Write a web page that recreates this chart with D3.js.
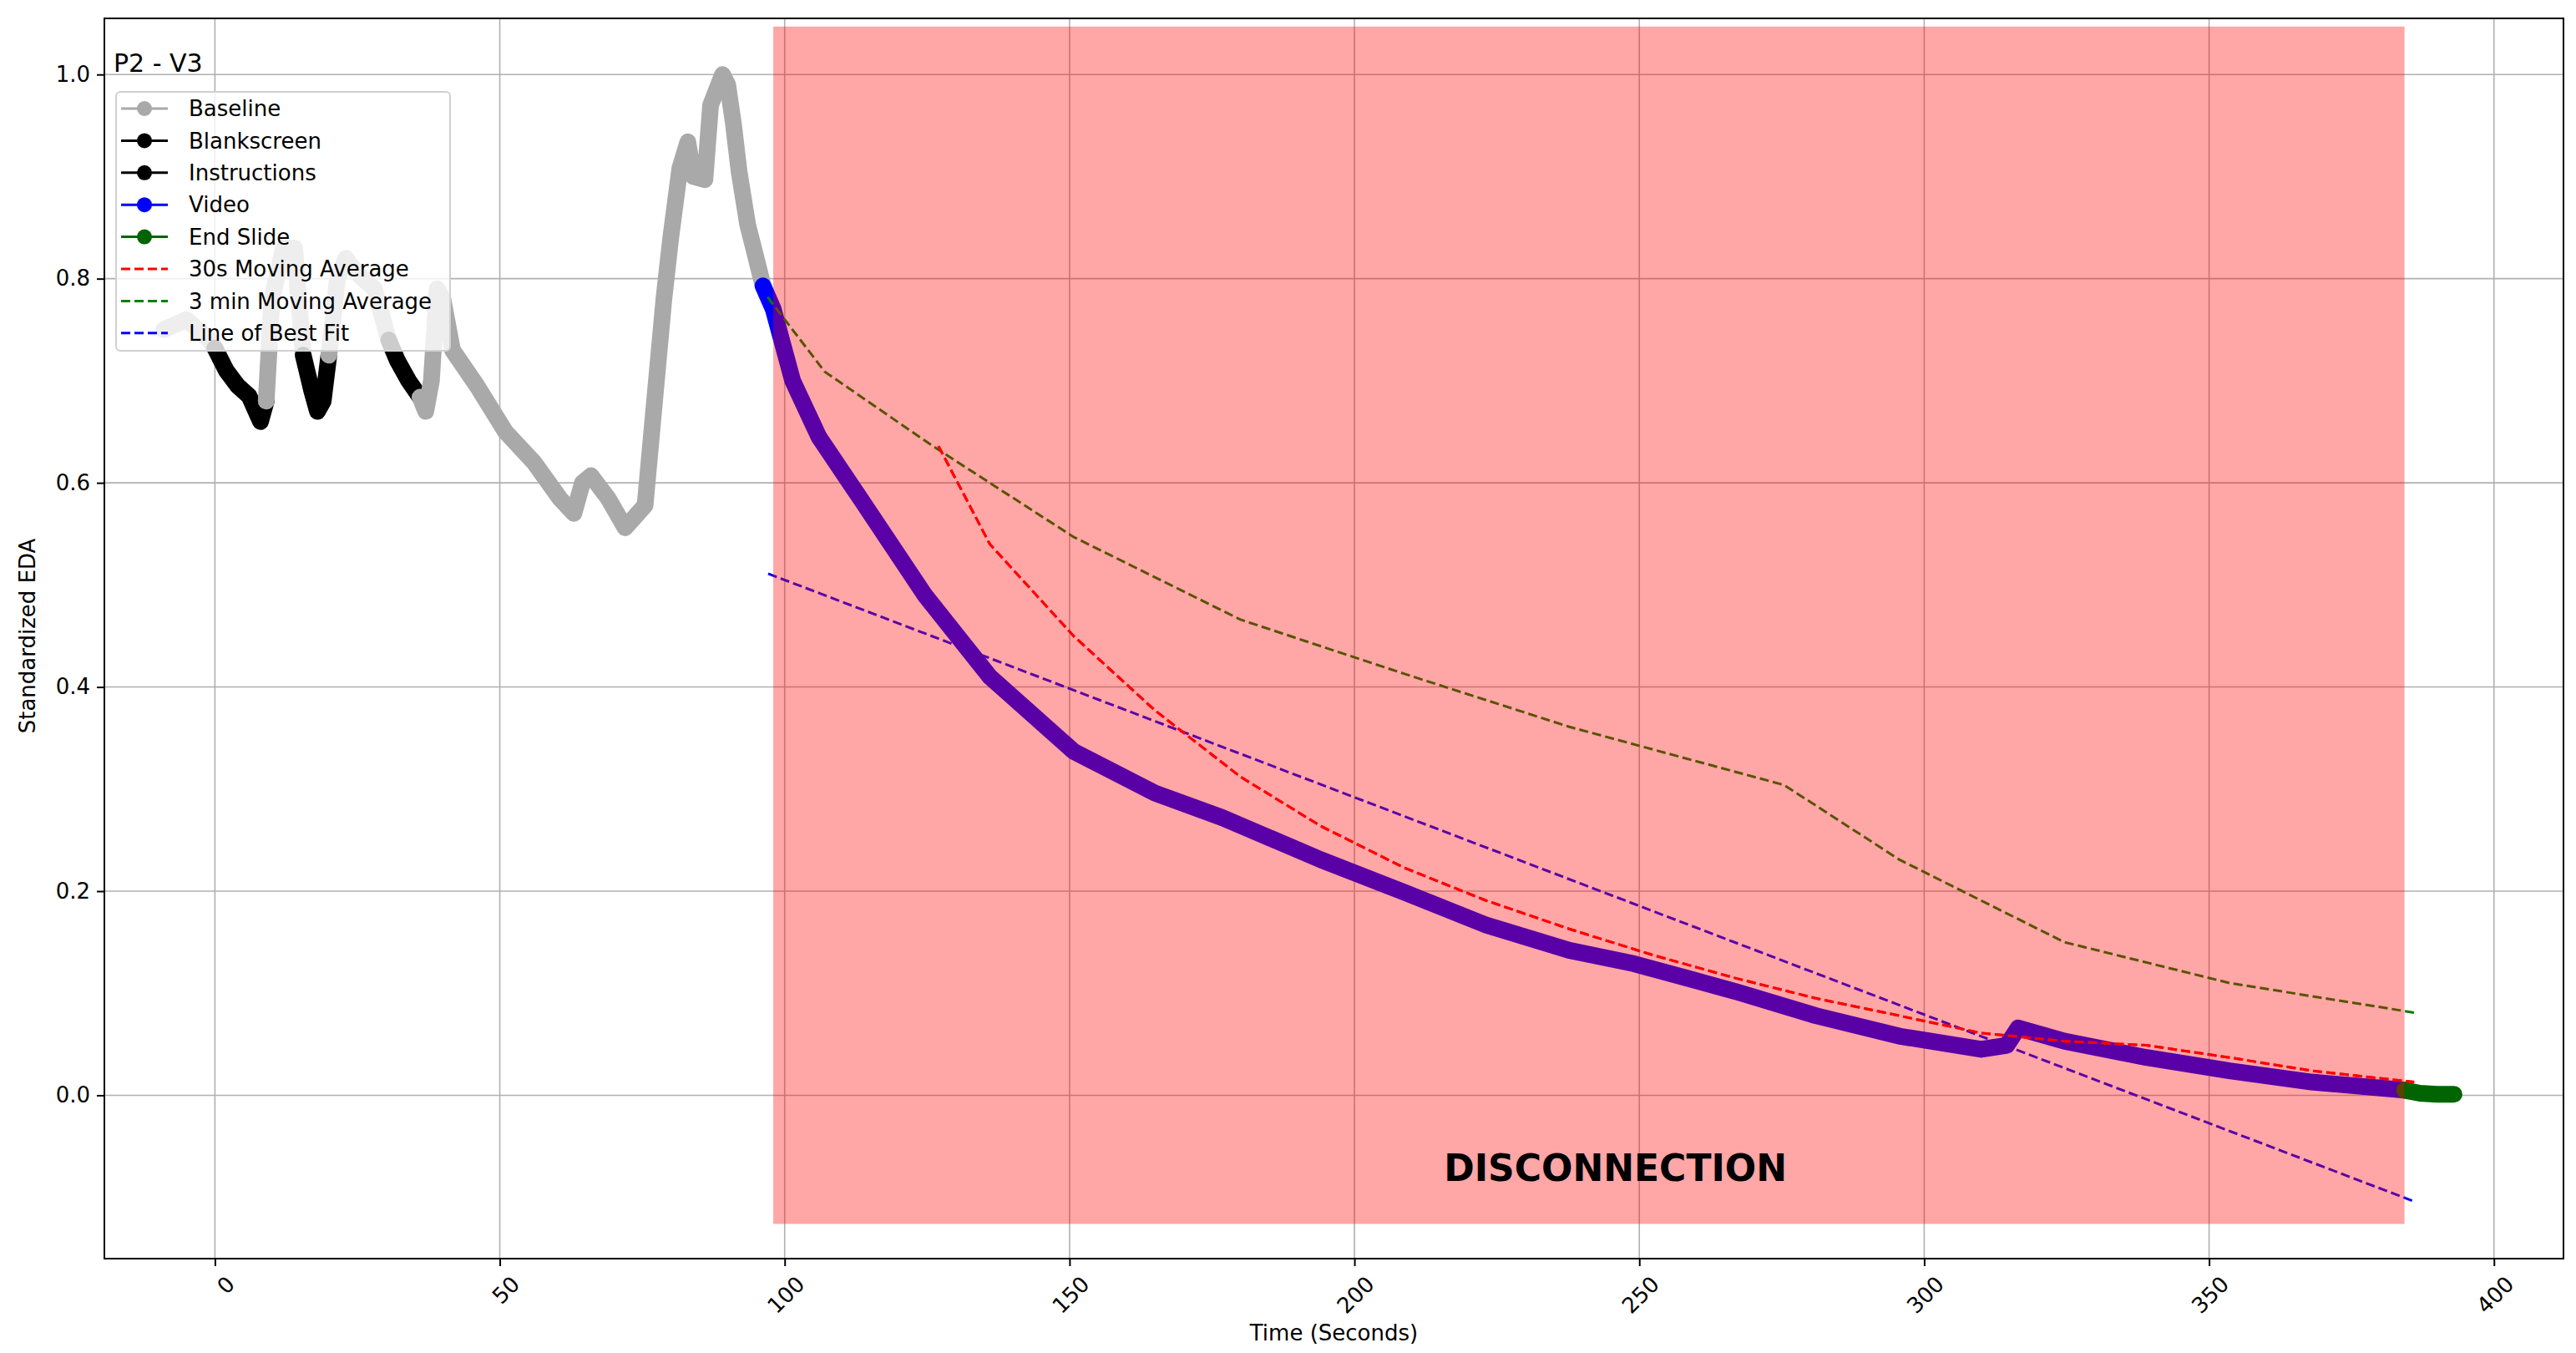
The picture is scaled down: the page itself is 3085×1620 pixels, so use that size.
<!DOCTYPE html>
<html>
<head>
<meta charset="utf-8">
<script src="https://cdn.jsdelivr.net/npm/d3@7"></script>
<style>
  body { margin: 0; background: #fff; }
  text { font-family: "DejaVu Sans", sans-serif; }
</style>
</head>
<body>
<svg id="chart"></svg>
<script>
// phases: [time, standardized EDA]
const baselineA = [[-9,0.75],[-5,0.76],[-1,0.74],[0,0.732]];
const blank1 = [[0,0.732],[2,0.71],[4,0.695],[6,0.685],[8,0.66],[9,0.68]];
const baselineB = [[9,0.68],[10,0.78],[12,0.83],[14,0.83],[15.5,0.725]];
const blank2 = [[15.5,0.725],[17,0.69],[18,0.67],[19,0.68],[20,0.725]];
const baselineC = [[20,0.725],[21.5,0.8],[23,0.82],[25,0.805],[28,0.79],[30.5,0.74]];
const instructions = [[30.5,0.74],[32,0.72],[34,0.70],[36,0.684]];
const baselineD = [[36,0.684],[37,0.67],[38,0.7],[39,0.79],[40,0.78],[41.7,0.73],[46,0.695],
  [51,0.65],[56,0.62],[60.5,0.585],[63,0.57],[64.5,0.6],[66,0.607],[69,0.585],[72,0.556],
  [75.5,0.578],[77,0.67],[78.8,0.78],[80,0.84],[81.6,0.908],[83,0.934],[84,0.90],[86,0.897],
  [87,0.97],[89.1,1.0],[90,0.99],[91,0.952],[92,0.905],[93.5,0.853],[95,0.82],[96.2,0.793]];
const video = [[96.2,0.793],[98,0.77],[101.4,0.70],[106,0.645],[113,0.587],[124.6,0.49],[136,0.41],
  [150.7,0.337],[165,0.296],[176.8,0.272],[194,0.231],[208.7,0.199],[223,0.167],[237.7,0.142],
  [249,0.129],[266.7,0.102],[281,0.078],[295.6,0.058],[310,0.045],[314.5,0.049],[316.5,0.066],
  [324.6,0.053],[339,0.037],[353.6,0.024],[368,0.013],[384.3,0.005]];
const endSlide = [[384.3,0.005],[387,0.002],[390,0.001],[393,0.001]];
const ma30 = [[127,0.636],[136,0.54],[150.7,0.45],[165,0.377],[180,0.312],[194,0.264],[208.7,0.223],
  [223,0.191],[237.7,0.163],[252,0.138],[266.7,0.115],[281,0.095],[295.6,0.078],[310,0.061],
  [324.6,0.053],[339,0.049],[353.6,0.037],[368,0.024],[386,0.013]];
const ma3min = [[97,0.782],[107,0.709],[126,0.636],[150.7,0.547],[180,0.466],[208.7,0.413],
  [237.7,0.361],[275.4,0.304],[295.6,0.231],[324.6,0.150],[353.6,0.11],[386,0.081]];
const bestFit = [[97.1,0.511],[386,-0.104]];
const xTicks = [0,50,100,150,200,250,300,350,400];
const yTicks = [0.0,0.2,0.4,0.6,0.8,1.0];
const span = { x0: 98, x1: 384.3, y0: -0.126, y1: 1.047, label: "DISCONNECTION" };

const width = 3085, height = 1620;
const margin = { top: 22, right: 15, bottom: 113, left: 125 };

const svg = d3.select("#chart").attr("width", width).attr("height", height);

const x = d3.scaleLinear().domain([-19.4, 412.2]).range([margin.left, width - margin.right]);
const y = d3.scaleLinear().domain([-0.16, 1.055]).range([height - margin.bottom, margin.top]);

// grid
svg.append("g").selectAll("line").data(xTicks).join("line")
  .attr("x1", d => x(d)).attr("x2", d => x(d))
  .attr("y1", margin.top).attr("y2", height - margin.bottom)
  .attr("stroke", "#b0b0b0").attr("stroke-width", 1.6);
svg.append("g").selectAll("line").data(yTicks).join("line")
  .attr("y1", d => y(d)).attr("y2", d => y(d))
  .attr("x1", margin.left).attr("x2", width - margin.right)
  .attr("stroke", "#b0b0b0").attr("stroke-width", 1.6);

const line = d3.line().x(d => x(d[0])).y(d => y(d[1]));

const thick = [
  [baselineA, "#a9a9a9"], [blank1, "#000"], [baselineB, "#a9a9a9"], [blank2, "#000"],
  [baselineC, "#a9a9a9"], [instructions, "#000"], [baselineD, "#a9a9a9"],
  [video, "#0000ff"], [endSlide, "#006400"]
];
thick.forEach(([d, c]) => {
  svg.append("path").datum(d).attr("d", line)
    .attr("fill", "none").attr("stroke", c).attr("stroke-width", 20)
    .attr("stroke-linejoin", "round").attr("stroke-linecap", "round");
});

const dashed = [[ma30, "#ff0000"], [ma3min, "#008000"], [bestFit, "#0000ff"]];
dashed.forEach(([d, c]) => {
  svg.append("path").datum(d).attr("d", line)
    .attr("fill", "none").attr("stroke", c).attr("stroke-width", 3)
    .attr("stroke-dasharray", "11,5");
});

// shaded span on top
svg.append("rect")
  .attr("x", x(span.x0)).attr("width", x(span.x1) - x(span.x0))
  .attr("y", y(span.y1)).attr("height", y(span.y0) - y(span.y1))
  .attr("fill", "red").attr("fill-opacity", 0.35);

// red dashed line stays bright on top
svg.append("path").datum(ma30).attr("d", line)
  .attr("fill", "none").attr("stroke", "#ff0000").attr("stroke-width", 3)
  .attr("stroke-dasharray", "11,5");

svg.append("text")
  .attr("x", x(245.8)).attr("y", y(-0.071)).attr("dy", "0.35em")
  .attr("text-anchor", "middle").style("font-size", "44px").style("font-weight", "bold")
  .text(span.label);

// axes
const xAxis = svg.append("g")
  .attr("transform", `translate(0,${height - margin.bottom})`)
  .call(d3.axisBottom(x).tickValues(xTicks).tickSize(9).tickPadding(8));
xAxis.selectAll("text")
  .style("font-size", "26px").attr("text-anchor", "end")
  .attr("transform", "rotate(-45)").attr("dx", "-0.2em").attr("dy", "0.9em");

const yAxis = svg.append("g")
  .attr("transform", `translate(${margin.left},0)`)
  .call(d3.axisLeft(y).tickValues(yTicks).tickFormat(d3.format(".1f")).tickSize(9).tickPadding(8));
yAxis.selectAll("text").style("font-size", "26px");

[xAxis, yAxis].forEach(a => {
  a.select(".domain").remove();
  a.selectAll("line").attr("stroke-width", 2);
});

svg.append("rect")
  .attr("x", margin.left).attr("y", margin.top)
  .attr("width", width - margin.left - margin.right)
  .attr("height", height - margin.top - margin.bottom)
  .attr("fill", "none").attr("stroke", "#000").attr("stroke-width", 2);

svg.append("text")
  .attr("x", (margin.left + width - margin.right) / 2).attr("y", 1605)
  .attr("text-anchor", "middle").style("font-size", "26px").text("Time (Seconds)");

svg.append("text")
  .attr("transform", `translate(42,${y(0.45)}) rotate(-90)`)
  .attr("text-anchor", "middle").style("font-size", "26px").text("Standardized EDA");

svg.append("text")
  .attr("x", 136).attr("y", 86)
  .style("font-size", "30px").text("P2 - V3");

// legend
const legendItems = [
  ["Baseline", "#a9a9a9", false], ["Blankscreen", "#000", false], ["Instructions", "#000", false],
  ["Video", "#0000ff", false], ["End Slide", "#006400", false],
  ["30s Moving Average", "#ff0000", true], ["3 min Moving Average", "#008000", true],
  ["Line of Best Fit", "#0000ff", true]
];
const legend = svg.append("g").attr("transform", "translate(139,110)");
legend.append("rect")
  .attr("width", 400).attr("height", 310).attr("rx", 5)
  .attr("fill", "#fff").attr("fill-opacity", 0.8).attr("stroke", "#d0d0d0").attr("stroke-width", 2);
legendItems.forEach(([name, c, dash], i) => {
  const g = legend.append("g").attr("transform", `translate(0,${20 + i * 38.4})`);
  g.append("line").attr("x1", 6).attr("x2", 62).attr("stroke", c).attr("stroke-width", 3)
    .attr("stroke-dasharray", dash ? "11,5" : null);
  if (!dash) g.append("circle").attr("cx", 34).attr("r", 9).attr("fill", c);
  g.append("text").attr("x", 87).attr("dy", "0.35em").style("font-size", "26px").text(name);
});
</script>
</body>
</html>
